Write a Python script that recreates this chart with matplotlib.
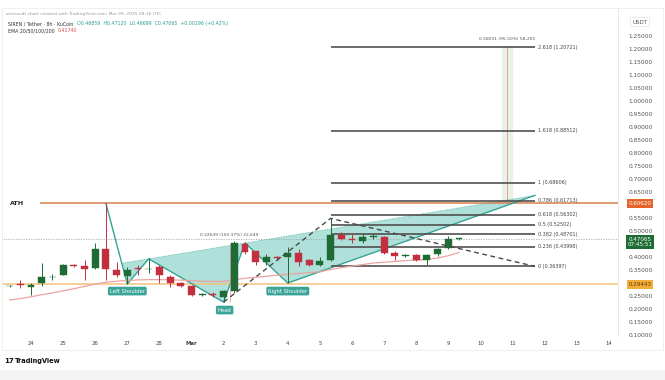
import matplotlib
matplotlib.use("Agg")
import matplotlib.pyplot as plt
import matplotlib.transforms as mtrans
from matplotlib.patches import Rectangle, Polygon
import numpy as np

plt.rcParams['font.family'] = ['DejaVu Sans']

# ---------------- data ----------------
bar_index = list(range(-2, 41))  # 8h bars, 0 = Feb 24 00:00
opens  = [0.287, 0.296, 0.286, 0.300, 0.322, 0.331, 0.370, 0.365, 0.358, 0.431,
          0.350, 0.327, 0.356, 0.352, 0.361, 0.323, 0.300, 0.288, 0.254, 0.256,
          0.248, 0.270, 0.450, 0.423, 0.381, 0.400, 0.400, 0.415, 0.388, 0.370,
          0.388, 0.485, 0.467, 0.462, 0.477, 0.477, 0.415, 0.405, 0.408, 0.388,
          0.410, 0.435, 0.46859]
highs  = [0.293, 0.310, 0.300, 0.377, 0.335, 0.372, 0.372, 0.390, 0.454, 0.606,
          0.380, 0.360, 0.370, 0.395, 0.370, 0.330, 0.302, 0.292, 0.260, 0.265,
          0.275, 0.460, 0.456, 0.425, 0.410, 0.405, 0.440, 0.430, 0.392, 0.400,
          0.5486, 0.495, 0.490, 0.490, 0.490, 0.480, 0.425, 0.410, 0.410, 0.410,
          0.435, 0.480, 0.47120]
lows   = [0.283, 0.280, 0.255, 0.290, 0.310, 0.330, 0.360, 0.310, 0.355, 0.312,
          0.325, 0.296, 0.330, 0.340, 0.300, 0.285, 0.286, 0.250, 0.250, 0.247,
          0.2265, 0.260, 0.410, 0.370, 0.370, 0.390, 0.300, 0.365, 0.365, 0.365,
          0.385, 0.465, 0.455, 0.455, 0.470, 0.410, 0.390, 0.400, 0.385, 0.369,
          0.405, 0.430, 0.46699]
closes = [0.290, 0.292, 0.292, 0.325, 0.325, 0.369, 0.366, 0.354, 0.431, 0.354,
          0.331, 0.350, 0.352, 0.354, 0.331, 0.300, 0.290, 0.254, 0.256, 0.253,
          0.270, 0.454, 0.420, 0.381, 0.400, 0.397, 0.415, 0.380, 0.370, 0.385,
          0.485, 0.470, 0.465, 0.477, 0.478, 0.415, 0.404, 0.407, 0.388, 0.408,
          0.430, 0.4686, 0.47065]
ema20  = [0.235, 0.240, 0.247, 0.255, 0.262, 0.270, 0.278, 0.287, 0.296, 0.303,
          0.307, 0.310, 0.312, 0.313, 0.313, 0.312, 0.311, 0.309, 0.307, 0.306,
          0.306, 0.313, 0.318, 0.322, 0.326, 0.330, 0.334, 0.337, 0.340, 0.343,
          0.352, 0.359, 0.365, 0.371, 0.377, 0.380, 0.383, 0.386, 0.388, 0.391,
          0.396, 0.405, 0.4174]

date_ticks = [0, 3, 6, 9, 12, 15, 18, 21, 24, 27, 30, 33, 36, 39, 42, 45, 48, 51, 54]
date_labels = ["24", "25", "26", "27", "28", "Mar", "2", "3", "4", "5", "6", "7",
               "8", "9", "10", "11", "12", "13", "14"]
price_ticks = [round(0.10 + 0.05 * i, 2) for i in range(24)]

# inverse head & shoulders pattern points (bar index, price)
hs_names = ["start", "ls", "ln", "head", "rn", "rs", "end"]
hs_x = [7, 9, 11, 18, 20, 24, 47.1]
hs_p = [0.6062, 0.296, 0.393, 0.2265, 0.454, 0.300, 0.637]

# trend-based fib extension
fib_anchor_x = [18, 28, 47.1]
fib_anchor_p = [0.22649, 0.5486, 0.36397]
fib_ratios = [0, 0.236, 0.382, 0.5, 0.618, 0.786, 1, 1.618, 2.618]
fib_values = [0.36397, 0.43998, 0.48701, 0.52502, 0.56302, 0.61713, 0.68606, 0.88512, 1.20721]

ath_price = 0.60620
support_price = 0.29443
last_price = 0.47065
measure_x = 44.5
measure_range = [0.60620, 1.20721]

# ---------------- figure ----------------
W, H = 665, 380
fig = plt.figure(figsize=(W / 100, H / 100), dpi=100)
fig.patch.set_facecolor("white")

def fx(px):
    return px / W

def fy(py):
    return 1 - py / H

# outer frame + bottom band
fig.add_artist(Rectangle((fx(2), fy(350)), fx(661), (350 - 8) / H, transform=fig.transFigure,
                         fill=False, edgecolor="#ececec", lw=0.6))
fig.add_artist(Rectangle((0, 0), 1, 10 / H, transform=fig.transFigure,
                         facecolor="#f3f3f3", edgecolor="none"))

ax = fig.add_axes([fx(3), fy(336), fx(615), 328 / H])
ax.set_xlim(-2.617, 54.86)
ax.set_ylim(0.0962, 1.3577)
ax.set_facecolor("white")
for s in ["top", "left", "bottom"]:
    ax.spines[s].set_visible(False)
ax.spines["right"].set_color("#e4e4e4")
ax.spines["right"].set_linewidth(0.6)

GREEN = "#1e6b35"
RED = "#c2303f"

# horizontal levels
ax.axhline(support_price, color="#f2c27c", lw=1.1, zorder=2)
ax.hlines(ath_price, 0.84, 54.86, color="#d98a5c", lw=1.2, zorder=2)
ax.axhline(last_price, color="#9fb0ae", lw=0.6, ls=(0, (1.5, 1.5)), zorder=2)

# measurement band
ax.fill_betweenx(measure_range, measure_x - 0.45, measure_x + 0.45, color="#eaf1e6", zorder=1)
ax.vlines(measure_x, measure_range[0], measure_range[1], color="#e49090", lw=0.6, zorder=2)

# pattern fill
neck_slope = (hs_p[4] - hs_p[2]) / (hs_x[4] - hs_x[2])
s_slope = (hs_p[1] - hs_p[0]) / (hs_x[1] - hs_x[0])
xi = (hs_p[0] - s_slope * hs_x[0] - (hs_p[4] - neck_slope * hs_x[4])) / (neck_slope - s_slope)
pi = hs_p[4] + neck_slope * (xi - hs_x[4])
poly = [(xi, pi)] + list(zip(hs_x[1:], hs_p[1:]))
ax.add_patch(Polygon(poly, closed=True, facecolor="#a6ddd5", edgecolor="none", alpha=0.9, zorder=1.5))
ax.plot(hs_x, hs_p, color="#36a394", lw=1.0, zorder=2.5)
ax.plot([xi, hs_x[-1]], [pi, hs_p[-1]], color="#36a394", lw=0.5, ls=(0, (1, 1.5)), zorder=2.5)

# fib lines
for r, v in zip(fib_ratios, fib_values):
    ax.hlines(v, fib_anchor_x[1], fib_anchor_x[2], color="#505050", lw=1.2, zorder=2.6)
    ax.text(fib_anchor_x[2] + 0.25, v, f"{r:g} ({v:.5f})", fontsize=3.5, color="#444",
            va="center", ha="left", zorder=6)
ax.plot(fib_anchor_x, fib_anchor_p, color="#4a4a4a", lw=1.0, ls=(0, (3.5, 2.5)), zorder=5)

# EMA
ax.plot(bar_index, ema20, color="#eba3a0", lw=0.9, zorder=2.7)

# candles
idx = np.array(bar_index)
o = np.array(opens); h = np.array(highs); l = np.array(lows); c = np.array(closes)
col = np.where(c >= o, GREEN, RED)
ax.vlines(idx, l, h, colors=col, lw=0.7, zorder=3)
body = np.maximum(np.abs(c - o), 0.003)
ax.bar(idx, body, bottom=np.minimum(o, c), width=0.64, color=col, edgecolor=col, lw=0.3, zorder=4)

# measurement on big candle
ax.vlines(hs_x[3] + 0.6, hs_p[3], hs_p[4], color="#e49090", lw=0.5, zorder=2.8)
ax.text(15.8, 0.4865, "0.22649 (100.37%) 22,649", fontsize=3.2, color="#555", va="center", ha="left", zorder=6)
ax.text(measure_x, measure_range[1] + 0.022, "0.58031 (95.50%) 58,205", fontsize=3.2, color="#555",
        va="bottom", ha="center", zorder=6)

# pattern labels
lbl_kw = dict(fontsize=3.8, color="white", ha="center", va="center", zorder=7,
              bbox=dict(boxstyle="round,pad=0.35,rounding_size=0.3", fc="#3aa596", ec="none"))
ax.text(hs_x[1], 0.269, "Left Shoulder", **lbl_kw)
ax.text(hs_x[3] + 0.1, 0.196, "Head", **lbl_kw)
ax.text(hs_x[5], 0.269, "Right Shoulder", **lbl_kw)

# ATH label
ax.text(-2.0, ath_price, "ATH", fontsize=4.6, fontweight="bold", color="#222", va="center", ha="left")

# right-axis value tags
tag_centers = [ath_price, last_price - 0.012, support_price]

# axes ticks (labels hidden where a value tag covers them)
ax.set_yticks(price_ticks)
ax.set_yticklabels(["" if min(abs(t - tc) for tc in tag_centers) < 0.02 else f"{t:.5f}"
                    for t in price_ticks])
ax.yaxis.tick_right()
ax.tick_params(axis="y", length=0, pad=7.5, labelsize=4.2, labelcolor="#555")
ax.set_xticks(date_ticks)
ax.set_xticklabels(date_labels)
ax.tick_params(axis="x", length=0, pad=3.5, labelsize=3.9, labelcolor="#444")
for t in ax.get_xticklabels():
    if t.get_text() == "Mar":
        t.set_fontweight("bold")

btf = mtrans.blended_transform_factory(ax.transAxes, ax.transData)
tag_x = (640 - 3) / 615
ax.text(tag_x, tag_centers[0], f"{ath_price:.5f}", transform=btf, fontsize=4.1, color="white",
        ha="center", va="center", zorder=8, clip_on=False,
        bbox=dict(boxstyle="square,pad=0.3", fc="#e5642a", ec="none"))
ax.text(tag_x, tag_centers[1], f"{last_price:.5f}\n07:45:51", transform=btf, fontsize=4.1,
        color="white", ha="center", va="center", zorder=8, clip_on=False, linespacing=1.1,
        bbox=dict(boxstyle="square,pad=0.3", fc="#1e6b35", ec="none"))
ax.text(tag_x, tag_centers[2], f"{support_price:.5f}", transform=btf, fontsize=4.1, color="#5a3a00",
        ha="center", va="center", zorder=8, clip_on=False,
        bbox=dict(boxstyle="square,pad=0.3", fc="#f5ad3a", ec="none"))

# header
fig.text(fx(6), fy(14), "sirenusdt chart created with TradingView.com, Mar 09, 2025 08:16 UTC",
         fontsize=3.2, color="#999", va="center", ha="left")
fig.text(fx(8), fy(24), "SIREN / Tether · 8h · KuCoin", fontsize=3.4, color="#333", va="center", ha="left")
fig.text(fx(77), fy(24), "O0.46859  H0.47120  L0.46699  C0.47065  +0.00196 (+0.42%)",
         fontsize=3.4, color="#2a9d8f", va="center", ha="left")
fig.text(fx(8), fy(31), "EMA 20/50/100/200", fontsize=3.4, color="#333", va="center", ha="left")
fig.text(fx(58), fy(31), "0.41740", fontsize=3.4, color="#e0504a", va="center", ha="left")
fig.text(fx(640), fy(22), "USDT", fontsize=4.0, color="#555", va="center", ha="center",
         bbox=dict(boxstyle="round,pad=0.35", fc="white", ec="#e2e2e2", lw=0.5))

# logo
fig.text(fx(4), fy(361), "17", fontsize=5, fontweight="heavy", color="#111", va="center", ha="left")
fig.text(fx(15), fy(361), "TradingView", fontsize=4.8, fontweight="bold", color="#111", va="center", ha="left")

fig.savefig("out.png", dpi=100, facecolor="white")
